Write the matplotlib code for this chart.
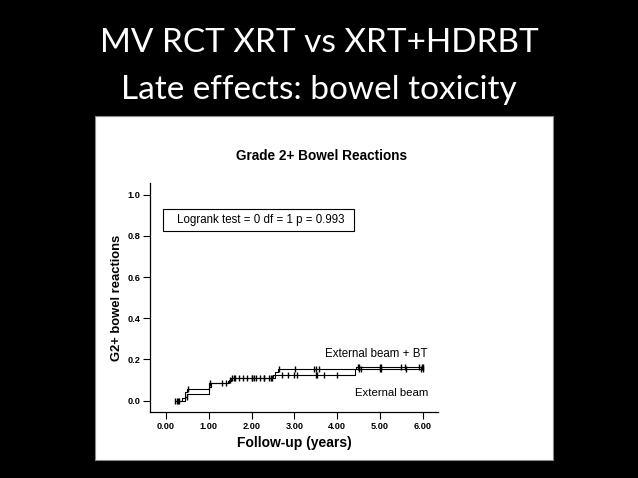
import matplotlib
matplotlib.use('Agg')
import matplotlib.pyplot as plt
from matplotlib.patches import Rectangle
import numpy as np

# cumulative incidence step curves (time in years, value after the step)
bt_times = [0.20, 0.37, 0.45, 0.50, 1.00, 1.45, 1.52, 2.55, 2.62, 4.45, 6.00]
bt_values = [0.000, 0.013, 0.040, 0.055, 0.085, 0.097, 0.110, 0.140, 0.155, 0.165, 0.165]
bt_censored = [0.22, 0.28, 0.52, 1.02, 1.30, 1.55, 1.60, 1.70, 1.80, 2.00, 2.05, 2.20,
               2.30, 2.40, 2.65, 3.02, 3.45, 3.50, 3.58, 4.48, 4.52, 5.00, 5.02, 5.50,
               5.58, 5.90, 5.98, 6.00]

eb_times = [0.20, 0.45, 0.50, 1.00, 1.05, 1.48, 1.55, 2.50, 4.42, 6.00]
eb_values = [0.000, 0.020, 0.033, 0.065, 0.085, 0.100, 0.110, 0.127, 0.155, 0.155]
eb_censored = [0.25, 0.30, 0.48, 1.40, 1.50, 1.62, 1.90, 2.00, 2.10, 2.30, 2.45, 2.48,
               2.70, 2.85, 3.00, 3.05, 3.50, 3.52, 3.68, 4.00, 4.50, 4.55, 5.00, 5.03,
               5.60, 5.95, 6.00]

x_ticks = [0, 1, 2, 3, 4, 5, 6]
y_ticks = [0.0, 0.2, 0.4, 0.6, 0.8, 1.0]

W, H = 638, 478
fig = plt.figure(figsize=(W / 100, H / 100), dpi=100, facecolor='black')

title_font = ['Lato', 'DejaVu Sans']
fig.text(0.5, 1 - 43 / H, 'MV RCT XRT vs XRT+HDRBT', color='white', fontsize=24,
         ha='center', va='center', family=title_font)
fig.text(0.5, 1 - 90 / H, 'Late effects: bowel toxicity', color='white', fontsize=24,
         ha='center', va='center', family=title_font)

# white chart panel
fig.patches.append(Rectangle((95 / W, 1 - 460 / H), 458 / W, 344 / H,
                             transform=fig.transFigure, facecolor='white',
                             edgecolor='#8a8a8a', linewidth=0.8, zorder=-5))

plt.rcParams['font.family'] = ['Liberation Sans', 'DejaVu Sans']

ax = fig.add_axes([150 / W, 1 - 412 / H, (438 - 150) / W, (412 - 183) / H])
ax.set_facecolor('none')
ax.set_zorder(2)


def step_value(times, values, t):
    i = np.searchsorted(times, t, side='right') - 1
    return values[max(i, 0)]


for times, values, cens in [(bt_times, bt_values, bt_censored),
                            (eb_times, eb_values, eb_censored)]:
    ax.step(times, values, where='post', color='black', linewidth=0.8)
    cy = [step_value(times, values, t) for t in cens]
    ax.plot(cens, cy, linestyle='none', marker='|', markersize=5,
            markeredgewidth=1.0, color='black')

ax.set_xlim(-0.374, 6.355)
ax.set_ylim(-0.055, 1.057)
ax.set_xticks(x_ticks)
ax.set_xticklabels([f'{v:.2f}' for v in x_ticks], fontweight='bold', fontsize=6.6)
ax.set_yticks(y_ticks)
ax.set_yticklabels([f'{v:.1f}' for v in y_ticks], fontweight='bold', fontsize=6.6)
ax.tick_params(direction='out', length=5, width=0.8, pad=2, colors='black')
for side in ['top', 'right']:
    ax.spines[side].set_visible(False)
for side in ['left', 'bottom']:
    ax.spines[side].set_linewidth(0.9)

ax.set_xlabel('Follow-up (years)', fontweight='bold', fontsize=10, labelpad=4)
ax.set_ylabel('G2+ bowel reactions', fontweight='bold', fontsize=9.4, labelpad=3)

fig.text(321 / W, 1 - 156 / H, 'Grade 2+ Bowel Reactions', fontweight='bold',
         fontsize=9.8, ha='center', va='center', color='black', zorder=3)

ax.add_patch(Rectangle((-0.07, 0.824), 4.46, 0.106, facecolor='white',
                       edgecolor='black', linewidth=0.8, clip_on=False))
ax.text(0.26, 0.877, 'Logrank test = 0 df = 1 p = 0.993', fontsize=8.3,
        va='center', ha='left')

ax.text(6.12, 0.227, 'External beam + BT', fontsize=8.3, ha='right', va='center')
ax.text(6.12, 0.037, 'External beam', fontsize=8.2, ha='right', va='center')

fig.savefig('out.png', dpi=100, facecolor='black')
